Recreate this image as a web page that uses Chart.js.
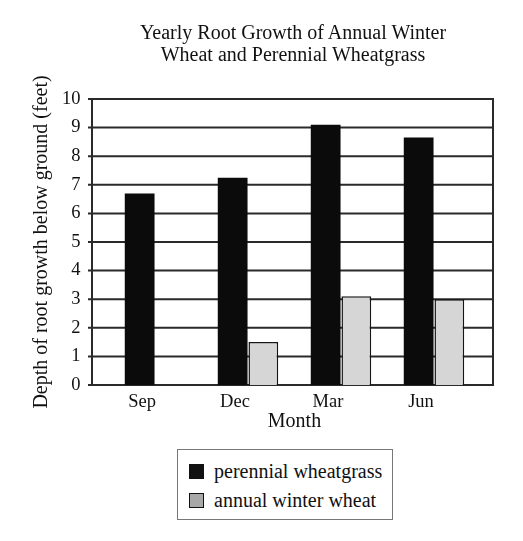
<!DOCTYPE html>
<html>
<head>
<meta charset="utf-8">
<script src="https://cdn.jsdelivr.net/npm/chart.js@4.4.1/dist/chart.umd.min.js"></script>
<style>
  body { margin: 0; background: #fff; overflow: hidden; }
  #wrap { position: relative; width: 523px; height: 541px; overflow: hidden; }
  #chart-box { position: absolute; left: 0; top: 0; width: 523px; height: 440px; }
  #title {
    position: absolute; left: 0; top: 21px; width: 586px; text-align: center;
    font-family: "Liberation Serif", serif; font-size: 20px; line-height: 22px; color: #111;
  }
  #legend {
    position: absolute; left: 177px; top: 449px; width: 214px; height: 69px;
    border: 1px solid #777; box-sizing: content-box;
    font-family: "Liberation Serif", serif; font-size: 20px; color: #111;
  }
  #legend .item { position: absolute; left: 11px; height: 16px; line-height: 16px; white-space: nowrap; }
  #legend .swatch { display: inline-block; width: 13px; height: 13px; border: 1px solid #111; vertical-align: -1px; margin-right: 10px; }
</style>
</head>
<body>
<div id="wrap">
  <div id="chart-box"><canvas id="root-chart"></canvas></div>
  <div id="title"></div>
  <div id="legend"></div>
</div>
<script>
const chartTitle = ['Yearly Root Growth of Annual Winter', 'Wheat and Perennial Wheatgrass'];
const months = ['Sep', 'Dec', 'Mar', 'Jun'];
const perennialWheatgrass = [6.7, 7.25, 9.1, 8.65];
const annualWinterWheat = [0, 1.5, 3.1, 3.0];
const yTicks = [0, 1, 2, 3, 4, 5, 6, 7, 8, 9, 10];

const serif = '"Liberation Serif", serif';

document.getElementById('title').innerHTML = chartTitle.join('<br>');

// frame and horizontal rules reach a bit past the bar area, like the printed figure
const framePlugin = {
    id: 'frame',
    beforeDatasetsDraw(chart) {
        const {ctx, chartArea, scales} = chart;
        const left = chartArea.left - 16.5;
        const right = chartArea.right + 12.5;
        const top = scales.y.getPixelForValue(10);
        const bottom = scales.y.getPixelForValue(0);
        ctx.save();
        ctx.strokeStyle = '#2a2a2a';
        ctx.lineWidth = 2;
        yTicks.forEach(v => {
            const y = scales.y.getPixelForValue(v);
            ctx.beginPath();
            ctx.moveTo(left - 4, y);
            ctx.lineTo(right, y);
            ctx.stroke();
        });
        ctx.strokeRect(left, top, right - left, bottom - top);
        ctx.restore();
    }
};

const ctx = document.getElementById('root-chart').getContext('2d');
const rootChart = new Chart(ctx, {
    type: 'bar',
    data: {
        labels: months,
        datasets: [{
            label: 'perennial wheatgrass',
            data: perennialWheatgrass,
            backgroundColor: '#0b0b0b',
            borderWidth: 0,
            categoryPercentage: 0.66,
            barPercentage: 0.97
        }, {
            label: 'annual winter wheat',
            data: annualWinterWheat,
            backgroundColor: '#d6d6d6',
            borderColor: '#151515',
            borderWidth: 1.5,
            categoryPercentage: 0.66,
            barPercentage: 0.97
        }]
    },
    options: {
        responsive: true,
        maintainAspectRatio: false,
        animation: false,
        layout: {
            padding: {left: 0, right: 42.5, top: 99, bottom: 0}
        },
        scales: {
            x: {
                offset: true,
                grid: {display: false, drawTicks: false},
                border: {display: false},
                ticks: {
                    color: '#111',
                    padding: 6,
                    labelOffset: -13,
                    font: {family: serif, size: 18.5}
                },
                title: {
                    display: true,
                    text: 'Month',
                    color: '#111',
                    padding: {top: 0, bottom: 6},
                    font: {family: serif, size: 20}
                },
                afterFit(scale) { scale.height = 55; }
            },
            y: {
                min: 0,
                max: 10,
                afterBuildTicks(scale) { scale.ticks = yTicks.map(v => ({value: v})); },
                grid: {display: false, drawTicks: false},
                border: {display: false},
                ticks: {
                    color: '#111',
                    padding: 28,
                    font: {family: serif, size: 18.5}
                },
                title: {
                    display: true,
                    text: 'Depth of root growth below ground (feet)',
                    color: '#111',
                    padding: {top: 30, bottom: 0},
                    font: {family: serif, size: 20}
                },
                afterFit(scale) { scale.width = 108.5; }
            }
        },
        plugins: {
            legend: {display: false},
            tooltip: {enabled: false}
        }
    },
    plugins: [framePlugin]
});

// legend box built from the chart's datasets
const legendColors = ['#111', '#a8a8a8'];
const legendEl = document.getElementById('legend');
rootChart.data.datasets.forEach((ds, i) => {
    const item = document.createElement('div');
    item.className = 'item';
    item.style.top = (13 + i * 29) + 'px';
    item.innerHTML = '<span class="swatch" style="background:' + legendColors[i] + '"></span>' + ds.label;
    legendEl.appendChild(item);
});
</script>
</body>
</html>
